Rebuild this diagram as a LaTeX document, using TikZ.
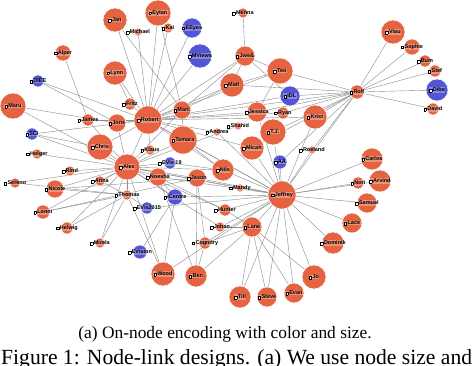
\documentclass[tikz,border=0pt]{standalone}
\usepackage{fontspec}
\setmainfont{Liberation Serif}
\newfontfamily\lblfont{Liberation Sans}
\usetikzlibrary{backgrounds}
\definecolor{pred}{RGB}{229,99,64}
\definecolor{pblue}{RGB}{84,84,214}
\definecolor{egray}{RGB}{138,138,138}
\newcommand{\mk}{{\setlength\fboxsep{0pt}\setlength\fboxrule{0.3pt}\fcolorbox{black}{white}{\rule{0pt}{2.2pt}\hspace{2.2pt}}}\,}
\tikzset{
  pnode/.style={circle, draw=white, line width=0.5pt, inner sep=0pt, fill=pred},
  bnode/.style={pnode, fill=pblue},
  lbl/.style={font=\lblfont\bfseries\fontsize{5.5}{6}\selectfont, inner sep=0.4pt, fill=white, fill opacity=0.3, text opacity=1},
  edge/.style={egray, line width=0.4pt},
}
\begin{document}
\begin{tikzpicture}[x=1pt, y=-1pt]
% tikz code here
  \useasboundingbox (0,0) rectangle (474,366);
  \foreach \n/\x/\y/\r/\t in {jan/115/20/12/Jan, eytan/158/13/13/Eytan, michael/138/32/4/Michael,
      kai/168/28/5/Kai, alper/63/53/8/Alper, lynn/115/73/12/Lynn, menna/243/13/5/Menna,
      jwe/245/56/10/Jwe\&, teo/280/71/13/Teo, matt/232/85/12/Matt, fritz/130/104/6/Fritz,
      maru/13/106/13/Maru, marc/182/110/9/Marc, jessica/257/112/10/Jessica, ryan/283/113/6/Ryan,
      krist/315/117/12/Krist, viau/393/32/12/Viau, sophie/412/47/8/Sophie, bum/425/61/6/Bum,
      stef/435/71/6/Stef, david/433/109/6/David, rolf/357/92/7/Rolf, james/88/120/6/James,
      jons/117/123/9/Jons, robert/148/120/14/Robert, holger/37/154/5/Holger, chris/100/147/13/Chris,
      alex/127/167/13/Alex, klaus/150/150/5/Klaus, rind/70/171/5/Rind, sereno/15/183/5/Sereno,
      anna/100/181/5/Anna, nicole/55/189/9/Nicole, noesha/158/177/9/Noesha, thomas/127/195/5/Thomas,
      lonni/43/212/7/Lonni, helwig/67/228/6/Helwig, mirela/100/243/5/Mirela, tamara/183/140/14/Tamara,
      andrea/217/132/4/Andrea, shahid/238/126/4/Shahid, tj/273/132/13/T.J., micah/252/148/12/Micah,
      roeland/312/150/4/Roeland, nils/223/170/11/Nils, jason/197/178/9/Jason, mandy/240/188/4/Mandy,
      jeffrey/282/195/14/Jeffrey, hunter/225/210/6/Hunter, johan/220/227/5/Johan, lane/252/227/10/Lane,
      carlos/372/159/11/Carlos, nori/358/183/6/Nori, arvind/380/181/11/Arvind, samuel/367/203/10/Samuel,
      lace/352/223/10/Lace, dominik/333/243/11/Dominik, jo/314/277/12/Jo, cognitry/205/243/6/Cognitry,
      wood/163/274/12/Wood, ben/196/276/11/Ben, till/240/297/11/Till, steve/267/297/10/Steve,
      evan/294/293/10/Evan}
    \node[pnode, minimum size={2*\r pt}, label={[lbl]center:\mk\t}] (\n) at (\x,\y) {};
  \foreach \n/\x/\y/\r/\t in {diee/38/81/6/DIEE, eeyes/192/28/10/EEyes, mviews/200/56/12/MViews,
      idl/290/96/10/iDL, dibe/437/90/11/Dibe, sci/32/134/6/SCI, evisa/170/163/6/EVis 19,
      evisb/147/208/6/EVis2015, icentre/175/197/8/iCentre, aa/280/162/7/AA, evision/140/252/7/EVision}
    \node[bnode, minimum size={2*\r pt}, label={[lbl]center:\mk\t}] (\n) at (\x,\y) {};
  \begin{pgfonlayer}{background}
    \fill[white] (0,0) rectangle (474,366);
    \foreach \a/\b in {robert/jan, robert/eytan, robert/michael, robert/kai, robert/eeyes, robert/mviews,
        robert/lynn, robert/fritz, robert/marc, robert/matt, robert/jwe, robert/teo, robert/jons,
        robert/james, robert/chris, robert/alex, robert/diee, robert/klaus, robert/tamara, robert/jessica,
        robert/ryan, robert/idl, robert/sci, robert/andrea, robert/nils, robert/micah, robert/rolf,
        robert/jeffrey, robert/krist, lynn/fritz, jan/marc, eytan/marc}
      \draw[edge] (\a) -- (\b);
    \foreach \a/\b in {alex/chris, alex/jons, alex/james, alex/sci, alex/holger, alex/rind, alex/anna,
        alex/nicole, alex/sereno, alex/thomas, alex/noesha, alex/evisa, alex/klaus, alex/jason, alex/nils,
        alex/tamara, alex/marc, alex/lonni, alex/mirela, alex/helwig, alex/wood, alex/mandy, alex/jeffrey,
        alex/maru, alex/icentre, alex/hunter, alex/johan, alex/shahid}
      \draw[edge] (\a) -- (\b);
    \foreach \a/\b in {jeffrey/carlos, jeffrey/nori, jeffrey/arvind, jeffrey/samuel, jeffrey/lace,
        jeffrey/dominik, jeffrey/jo, jeffrey/evan, jeffrey/steve, jeffrey/lane, jeffrey/aa, jeffrey/tj,
        jeffrey/micah, jeffrey/nils, jeffrey/mandy, jeffrey/hunter, jeffrey/jason, jeffrey/icentre,
        jeffrey/noesha, jeffrey/rolf, jeffrey/roeland, jeffrey/krist, jeffrey/jessica, jeffrey/till,
        jeffrey/cognitry, jeffrey/wood, jeffrey/evisb, jeffrey/johan, jeffrey/tamara, jeffrey/andrea}
      \draw[edge] (\a) -- (\b);
    \foreach \a/\b in {rolf/viau, rolf/sophie, rolf/bum, rolf/stef, rolf/dibe, rolf/david, rolf/teo,
        rolf/krist, rolf/roeland, rolf/aa, rolf/tj, rolf/micah, rolf/matt, rolf/jessica, rolf/ryan, rolf/idl,
        lane/till, lane/steve, lane/evan, lane/jo, lane/johan, lane/hunter, lane/cognitry, lane/ben,
        alper/james, maru/jons, diee/jons, menna/jwe, jwe/teo, jwe/idl, jwe/marc, jwe/matt, teo/matt,
        teo/jessica, cognitry/ben, cognitry/jason, wood/thomas, wood/icentre, ben/jason, ben/noesha,
        evision/icentre, mirela/thomas, helwig/thomas, lonni/thomas, lonni/jason, nicole/thomas,
        nicole/jason, sereno/thomas, anna/thomas, evisb/thomas, icentre/noesha, marc/matt,
        marc/tamara, tamara/nils, chris/sci, evisa/nils, hunter/noesha}
      \draw[edge] (\a) -- (\b);
  \end{pgfonlayer}
  \node[anchor=base, font=\fontsize{17.4}{20}\selectfont] (capa) at (225,338)
    {(a) On-node encoding with color and size.};
  \node[anchor=base west, inner sep=0pt, font=\fontsize{21.6}{24}\selectfont] (capfig) at (1,364)
    {Figure 1: Node-link designs. (a) We use node size and};
\end{tikzpicture}
\end{document}
